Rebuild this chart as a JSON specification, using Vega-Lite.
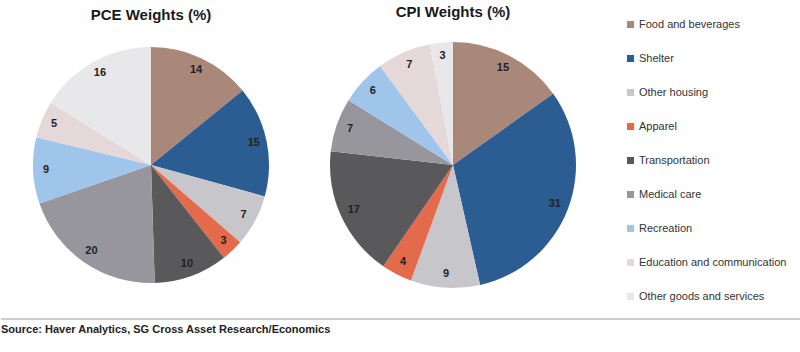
{
  "$schema": "https://vega.github.io/schema/vega-lite/v6.json",
  "padding": {"left": 0, "top": 5, "right": 0, "bottom": 0},
  "background": "white",
  "config": {
    "font": "Liberation Sans",
    "view": {"stroke": null},
    "title": {"fontSize": 15, "fontWeight": "bold", "color": "#1a1a1a", "offset": 22}
  },
  "data": {"values": [
    {"index": "PCE", "cat": "Food and beverages", "value": 14, "ord": 1},
    {"index": "PCE", "cat": "Shelter", "value": 15, "ord": 2},
    {"index": "PCE", "cat": "Other housing", "value": 7, "ord": 3},
    {"index": "PCE", "cat": "Apparel", "value": 3, "ord": 4},
    {"index": "PCE", "cat": "Transportation", "value": 10, "ord": 5},
    {"index": "PCE", "cat": "Medical care", "value": 20, "ord": 6},
    {"index": "PCE", "cat": "Recreation", "value": 9, "ord": 7},
    {"index": "PCE", "cat": "Education and communication", "value": 5, "ord": 8},
    {"index": "PCE", "cat": "Other goods and services", "value": 16, "ord": 9},
    {"index": "CPI", "cat": "Food and beverages", "value": 15, "ord": 1},
    {"index": "CPI", "cat": "Shelter", "value": 31, "ord": 2},
    {"index": "CPI", "cat": "Other housing", "value": 9, "ord": 3},
    {"index": "CPI", "cat": "Apparel", "value": 4, "ord": 4},
    {"index": "CPI", "cat": "Transportation", "value": 17, "ord": 5},
    {"index": "CPI", "cat": "Medical care", "value": 7, "ord": 6},
    {"index": "CPI", "cat": "Recreation", "value": 6, "ord": 7},
    {"index": "CPI", "cat": "Education and communication", "value": 7, "ord": 8},
    {"index": "CPI", "cat": "Other goods and services", "value": 3, "ord": 9}
  ]},
  "resolve": {"scale": {"color": "independent"}, "legend": {"color": "independent"}},
  "spacing": 16,
  "title": {"text": "Source: Haver Analytics, SG Cross Asset Research/Economics", "orient": "bottom", "anchor": "start", "fontSize": 11, "fontWeight": "bold", "color": "#222", "offset": 4, "frame": "group"},
  "vconcat": [
    {
      "spacing": 29,
      "hconcat": [
        {
          "title": {"text": "PCE Weights (%)"},
          "width": 300, "height": 240,
          "transform": [{"filter": "datum.index === 'PCE'"}],
          "encoding": {
            "theta": {"field": "value", "type": "quantitative", "stack": true},
            "order": {"field": "ord", "type": "quantitative"},
            "color": {"field": "cat", "type": "nominal",
              "scale": {
                "domain": ["Food and beverages", "Shelter", "Other housing", "Apparel", "Transportation", "Medical care", "Recreation", "Education and communication", "Other goods and services"],
                "range": ["#a9887a", "#2c5d92", "#c6c6cb", "#e36a4a", "#59595b", "#96969c", "#9fc5ea", "#e4d8d8", "#e8e8eb"]
              },
              "legend": {"title": null, "orient": "none", "legendX": 624, "legendY": -26, "symbolType": "square", "symbolSize": 50, "symbolStrokeWidth": 0, "labelFontSize": 11, "labelColor": "#333", "rowPadding": 22, "labelOffset": 3, "labelLimit": 300}
            }
          },
          "layer": [
            {"mark": {"type": "arc", "outerRadius": 118}},
            {"mark": {"type": "text", "radius": 105, "fontSize": 11, "fontWeight": "bold", "color": "#222"},
             "encoding": {"text": {"field": "value", "type": "quantitative"}, "color": {"value": "#222"}}}
          ]
        },
        {
          "title": {"text": "CPI Weights (%)"},
          "width": 246, "height": 240,
          "transform": [{"filter": "datum.index === 'CPI'"}],
          "encoding": {
            "theta": {"field": "value", "type": "quantitative", "stack": true},
            "order": {"field": "ord", "type": "quantitative"},
            "color": {"field": "cat", "type": "nominal"}
          },
          "layer": [
            {"mark": {"type": "arc", "outerRadius": 123}},
            {"mark": {"type": "text", "radius": 109, "fontSize": 11, "fontWeight": "bold", "color": "#222"},
             "encoding": {"text": {"field": "value", "type": "quantitative"}, "color": {"value": "#222"}}}
          ]
        }
      ]
    },
    {
      "width": 800, "height": 1,
      "data": {"values": [{"v": 0}]},
      "mark": {"type": "rule", "color": "#bdbdbd", "strokeWidth": 1.5},
      "encoding": {"y": {"datum": 0, "type": "quantitative", "scale": {"domain": [0, 1]}, "axis": null}}
    }
  ]
}
